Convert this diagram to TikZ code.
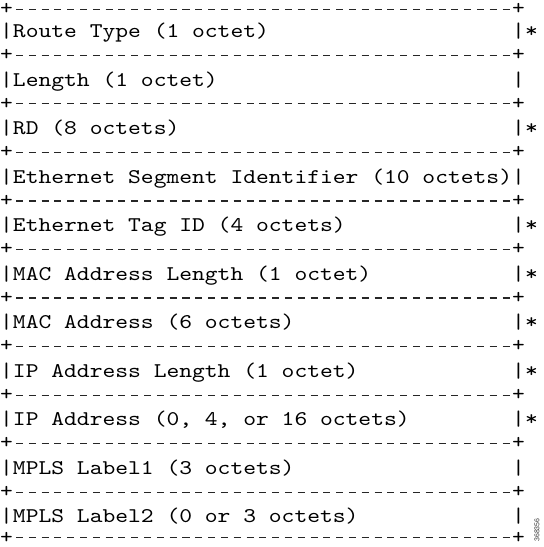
\documentclass[tikz,border=0pt]{standalone}
\usepackage{fontspec}
\setmonofont{lmmono10-regular.otf}[FakeStretch=1.165]
\newfontfamily\idfont{Liberation Sans}
\begin{document}
\begin{tikzpicture}[x=1bp,y=-1bp,
  ascii/.style={font=\fontsize{21}{24}\selectfont\ttfamily, inner sep=0pt, anchor=base west},
  corner/.style={ascii, text height=10.5bp, text depth=0pt},
  sepdash/.style={line width=1.3bp, black!85, dash pattern=on 7bp off 5.8bp, dash phase=9.9bp},
  idnum/.style={font=\fontsize{7}{8}\selectfont\idfont, inner sep=0pt, text=black!80}]
\useasboundingbox (0,0) rectangle (544,547);
% separators
\node[corner] (sep0l) at (0,15) {+};
\node[corner] (sep0r) at (512,15) {+};
\node[corner] (sep1l) at (0,60.55) {+};
\node[corner] (sep1r) at (512,60.55) {+};
\node[corner] (sep2l) at (0,109.1) {+};
\node[corner] (sep2r) at (512,109.1) {+};
\node[corner] (sep3l) at (0,157.65) {+};
\node[corner] (sep3r) at (512,157.65) {+};
\node[corner] (sep4l) at (0,206.2) {+};
\node[corner] (sep4r) at (512,206.2) {+};
\node[corner] (sep5l) at (0,254.75) {+};
\node[corner] (sep5r) at (512,254.75) {+};
\node[corner] (sep6l) at (0,303.3) {+};
\node[corner] (sep6r) at (512,303.3) {+};
\node[corner] (sep7l) at (0,351.85) {+};
\node[corner] (sep7r) at (512,351.85) {+};
\node[corner] (sep8l) at (0,400.4) {+};
\node[corner] (sep8r) at (512,400.4) {+};
\node[corner] (sep9l) at (0,448.95) {+};
\node[corner] (sep9r) at (512,448.95) {+};
\node[corner] (sep10l) at (0,497.5) {+};
\node[corner] (sep10r) at (512,497.5) {+};
\node[corner] (sep11l) at (0,543) {+};
\node[corner] (sep11r) at (512,543) {+};
\draw[sepdash] (sep0l) -- (sep0r);
\draw[sepdash] (sep1l) -- (sep1r);
\draw[sepdash] (sep2l) -- (sep2r);
\draw[sepdash] (sep3l) -- (sep3r);
\draw[sepdash] (sep4l) -- (sep4r);
\draw[sepdash] (sep5l) -- (sep5r);
\draw[sepdash] (sep6l) -- (sep6r);
\draw[sepdash] (sep7l) -- (sep7r);
\draw[sepdash] (sep8l) -- (sep8r);
\draw[sepdash] (sep9l) -- (sep9r);
\draw[sepdash] (sep10l) -- (sep10r);
\draw[sepdash] (sep11l) -- (sep11r);
% fields
\node[ascii] (rtype) at (0,37.5) {|Route Type (1 octet)};
\node[ascii] (rtypebar) at (512,37.5) {|};
\node[ascii] (rtypestar) at (524.8,37.5) {*};
\node[ascii] (len) at (0,86.05) {|Length (1 octet)};
\node[ascii] (lenbar) at (512,86.05) {|};
\node[ascii] (rd) at (0,134.6) {|RD (8 octets)};
\node[ascii] (rdbar) at (512,134.6) {|};
\node[ascii] (rdstar) at (524.8,134.6) {*};
\node[ascii] (esi) at (0,183.15) {|Ethernet Segment Identifier (10 octets)};
\node[ascii] (esibar) at (512,183.15) {|};
\node[ascii] (etag) at (0,231.7) {|Ethernet Tag ID (4 octets)};
\node[ascii] (etagbar) at (512,231.7) {|};
\node[ascii] (etagstar) at (524.8,231.7) {*};
\node[ascii] (maclen) at (0,280.25) {|MAC Address Length (1 octet)};
\node[ascii] (maclenbar) at (512,280.25) {|};
\node[ascii] (maclenstar) at (524.8,280.25) {*};
\node[ascii] (mac) at (0,328.8) {|MAC Address (6 octets)};
\node[ascii] (macbar) at (512,328.8) {|};
\node[ascii] (macstar) at (524.8,328.8) {*};
\node[ascii] (iplen) at (0,377.35) {|IP Address Length (1 octet)};
\node[ascii] (iplenbar) at (512,377.35) {|};
\node[ascii] (iplenstar) at (524.8,377.35) {*};
\node[ascii] (ip) at (0,425.9) {|IP Address (0, 4, or 16 octets)};
\node[ascii] (ipbar) at (512,425.9) {|};
\node[ascii] (ipstar) at (524.8,425.9) {*};
\node[ascii] (mpls1) at (0,474.45) {|MPLS Label1 (3 octets)};
\node[ascii] (mpls1bar) at (512,474.45) {|};
\node[ascii] (mpls2) at (0,522.5) {|MPLS Label2 (0 or 3 octets)};
\node[ascii] (mpls2bar) at (512,522.5) {|};
% figure number
\node[idnum, rotate=90] (figid) at (537,530) {368356};
\end{tikzpicture}
\end{document}
